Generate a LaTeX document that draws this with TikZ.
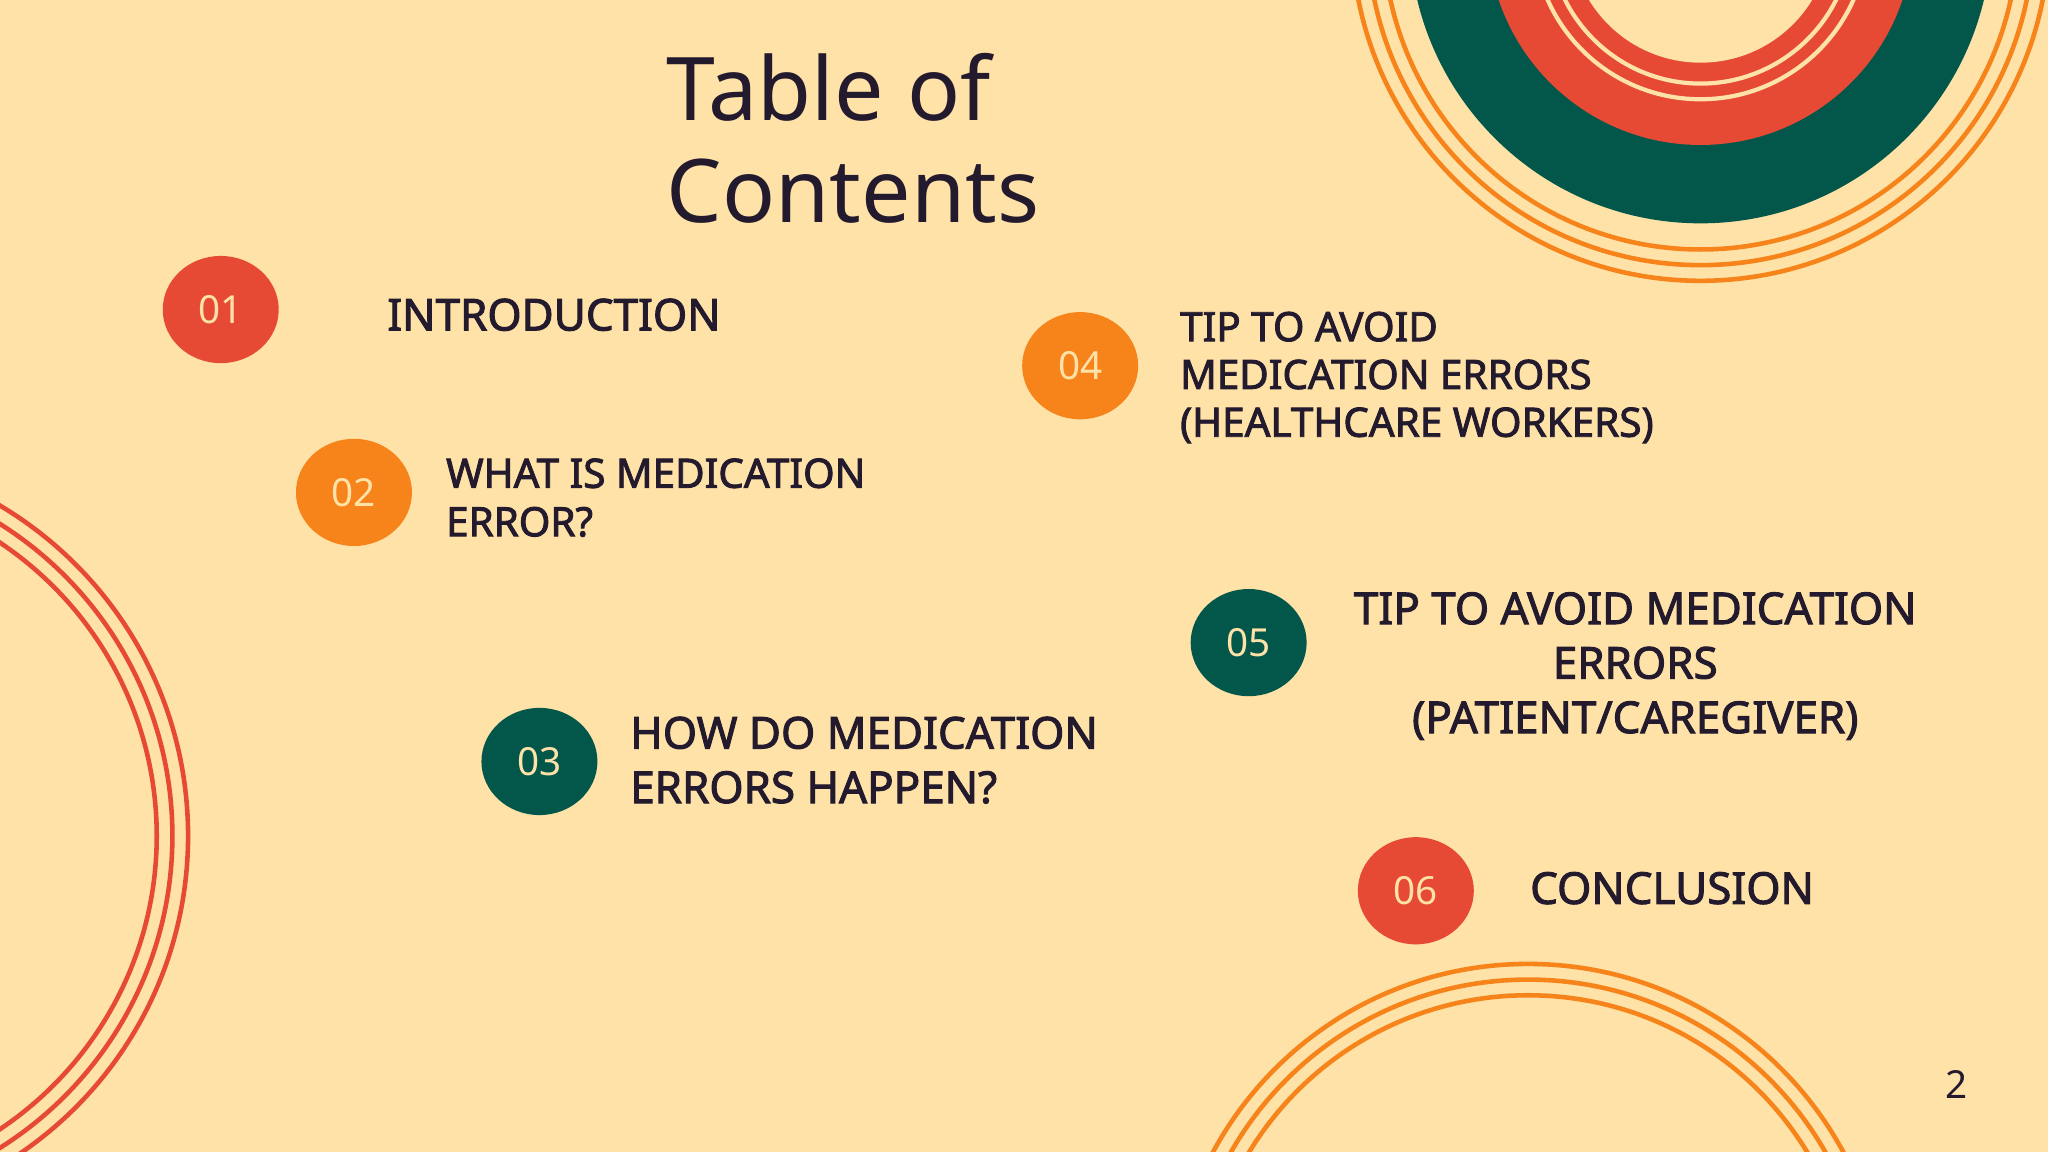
\documentclass[tikz,border=0pt]{standalone}
\usepackage{fontspec}
\setmainfont{Noto Sans}
\newfontfamily\hb{Noto Sans}[FakeBold=2.2]
\usetikzlibrary{shapes.geometric}
\definecolor{bg}{HTML}{FEE2A8}
\definecolor{myred}{HTML}{E64A35}
\definecolor{myorange}{HTML}{F7841A}
\definecolor{mygreen}{HTML}{02574A}
\definecolor{ink}{HTML}{231A2E}
\begin{document}
\begin{tikzpicture}[x=0.013061cm,y=-0.013061cm,
  blob/.style={ellipse,minimum width=33pt,minimum height=30.5pt,inner sep=0pt,text=bg,font=\fontsize{11}{11}\selectfont},
  head/.style={anchor=west,text=ink,align=left,inner sep=0pt},
  ring/.style={line width=1.3pt}]
\fill[bg] (0,0) rectangle (1568,882);
\useasboundingbox (0,0) rectangle (1568,882);
\begin{scope}
\clip (0,0) rectangle (1568,882);
\fill[mygreen] (1302,-52) circle (223);
\fill[myred] (1302,-52) circle (163);
\fill[bg] (1302,-52) circle (100);
\draw[bg,line width=1.2pt] (1302,-52) circle (116) (1302,-52) circle (128);
\foreach \r in {243,255,267}{\draw[myorange,ring] (1302,-52) circle (\r);}
\foreach \r in {270,282,294}{\draw[myred,ring] (-150,640) circle (\r);}
\foreach \r in {250,262,274}{\draw[myorange,ring] (1170,1012) circle (\r);}
\end{scope}
\node[text=ink,font=\fontsize{25}{29}\selectfont,align=left,anchor=north west,inner sep=0pt] (title) at (510,40) {Table of\\Contents};
\node[blob,fill=myred] (b1) at (169,237) {01};
\node[blob,fill=myorange] (b2) at (271,377) {02};
\node[blob,fill=mygreen] (b3) at (413,583) {03};
\node[blob,fill=myorange] (b4) at (827,280) {04};
\node[blob,fill=mygreen] (b5) at (956,492) {05};
\node[blob,fill=myred] (b6) at (1084,682) {06};
\node[head,font=\hb\fontsize{12.5}{12}\selectfont] (t1) at (296,241) {INTRODUCTION};
\node[head,font=\hb\fontsize{11.5}{13.8}\selectfont] (t2) at (341,381) {WHAT IS MEDICATION\\ERROR?};
\node[head,font=\hb\fontsize{12.5}{15.5}\selectfont] (t3) at (482,582) {HOW DO MEDICATION\\ERRORS HAPPEN?};
\node[head,font=\hb\fontsize{11.5}{13.6}\selectfont] (t4) at (903,289) {TIP TO AVOID\\MEDICATION ERRORS\\(HEALTHCARE WORKERS)};
\node[head,anchor=center,align=center,font=\hb\fontsize{12.5}{15.5}\selectfont] (t5) at (1252,510) {TIP TO AVOID MEDICATION\\ERRORS\\(PATIENT/CAREGIVER)};
\node[head,font=\hb\fontsize{12.5}{15}\selectfont] (t6) at (1171,680) {CONCLUSION};
\node[text=ink,font=\fontsize{11}{11}\selectfont] (pg) at (1498,830) {2};
\end{tikzpicture}
\end{document}
